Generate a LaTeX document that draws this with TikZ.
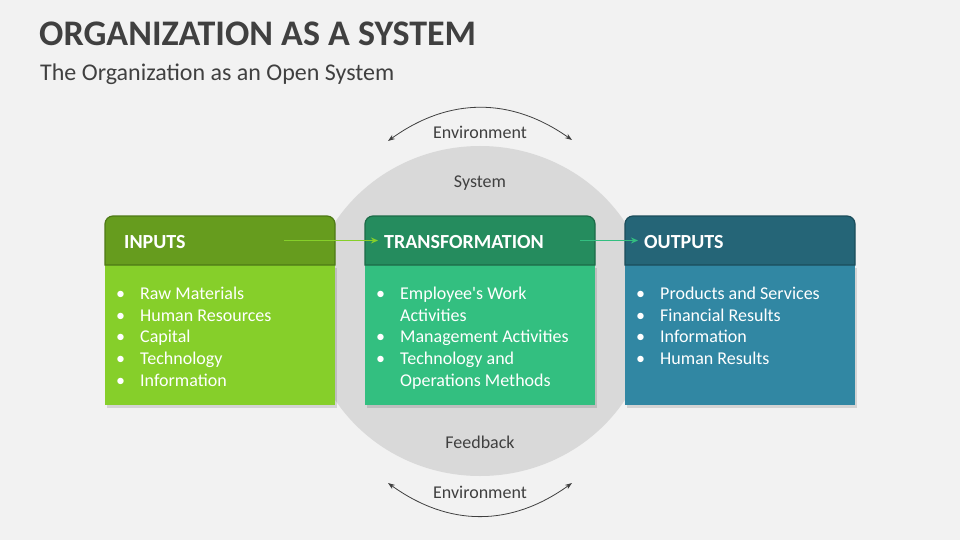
\documentclass[tikz,border=0pt]{standalone}
\usepackage{fontspec}
\setmainfont{Carlito}
\usetikzlibrary{arrows.meta}
\definecolor{bg}{HTML}{F2F2F2}
\definecolor{circ}{HTML}{D9D9D9}
\definecolor{txt}{HTML}{404040}
\definecolor{inH}{HTML}{669C1E}
\definecolor{inHb}{HTML}{4E7A16}
\definecolor{inB}{HTML}{86CF2A}
\definecolor{trH}{HTML}{258C5E}
\definecolor{trHb}{HTML}{1C6B48}
\definecolor{trB}{HTML}{33BF80}
\definecolor{ouH}{HTML}{256577}
\definecolor{ouHb}{HTML}{1B4D5B}
\definecolor{ouB}{HTML}{3187A3}
\newcommand{\bul}{\makebox[24pt][l]{\textbullet}}
\newcommand{\ind}{\hspace*{24pt}}
\tikzset{
  hdtext/.style={anchor=base west, inner sep=0pt, text=white, font=\fontsize{20}{22}\selectfont\bfseries},
  listtext/.style={anchor=north west, inner sep=0pt, text=white, align=left, font=\fontsize{18}{21.6}\selectfont},
  graytext/.style={inner sep=0pt, text=txt, font=\fontsize{18}{20}\selectfont},
  envarrow/.style={draw=txt, line width=0.8pt, {Stealth[length=7pt,width=5pt]}-{Stealth[length=7pt,width=5pt]}},
  shadowbox/.style={fill=black, opacity=0.12},
}
\begin{document}
\begin{tikzpicture}[x=1pt,y=-1pt]
\fill[bg] (0,0) rectangle (960,540);
\useasboundingbox (0,0) rectangle (960,540);
% system circle
\fill[circ] (480,311) ellipse [x radius=172, y radius=165];
% title
\node[anchor=base west, inner sep=0pt, text=txt, font=\fontsize{36}{40}\selectfont\bfseries] (title) at (39,46) {ORGANIZATION AS A SYSTEM};
\node[anchor=base west, inner sep=0pt, text=txt, font=\fontsize{24}{28}\selectfont] (subtitle) at (40,81) {The Organization as an Open System};
% environment arcs
\coordinate (e1a) at (388,141);
\coordinate (e1b) at (572,140);
\draw[envarrow] (e1a) .. controls (449,97) and (511,97) .. (e1b);
\node[graytext] (env1) at (480,132) {Environment};
\coordinate (e2a) at (388,483);
\coordinate (e2b) at (572,483);
\draw[envarrow] (e2a) .. controls (449,527) and (511,527) .. (e2b);
\node[graytext] (env2) at (480,492) {Environment};
\node[graytext] (system) at (480,183) {System};
\node[graytext] (feedback) at (480,442) {Feedback};
% shadows
\foreach \x in {105,365,625}{
  \fill[shadowbox] (\x+2,268) rectangle (\x+232,408);
}
% INPUTS box
\fill[inB] (105,265) rectangle (335,405);
\draw[fill=inH, draw=inHb, line width=1.2pt] (105,265) [rounded corners=8pt]-- (105,216) -- (335,216) [sharp corners]-- (335,265) -- cycle;
\node[inner sep=0pt, minimum width=230pt, minimum height=49pt] (inhead) at (220,240.5) {};
\node[hdtext] (inT) at (124,248) {INPUTS};
\node[listtext] (inL) at (116,287) {\bul Raw Materials\\ \bul Human Resources\\ \bul Capital\\ \bul Technology\\ \bul Information};
% TRANSFORMATION box
\fill[trB] (365,265) rectangle (595,405);
\draw[fill=trH, draw=trHb, line width=1.2pt] (365,265) [rounded corners=8pt]-- (365,216) -- (595,216) [sharp corners]-- (595,265) -- cycle;
\node[inner sep=0pt, minimum width=230pt, minimum height=49pt] (trhead) at (480,240.5) {};
\node[hdtext] (trT) at (384,248) {TRANSFORMATION};
\node[listtext] (trL) at (376,287) {\bul Employee\textquotesingle s Work\\ \ind Activities\\ \bul Management Activities\\ \bul Technology and\\ \ind Operations Methods};
% OUTPUTS box
\fill[ouB] (625,265) rectangle (855,405);
\draw[fill=ouH, draw=ouHb, line width=1.2pt] (625,265) [rounded corners=8pt]-- (625,216) -- (855,216) [sharp corners]-- (855,265) -- cycle;
\node[inner sep=0pt, minimum width=230pt, minimum height=49pt] (ouhead) at (740,240.5) {};
\node[hdtext] (ouT) at (644,248) {OUTPUTS};
\node[listtext] (ouL) at (636,287) {\bul Products and Services\\ \bul Financial Results\\ \bul Information\\ \bul Human Results};
% flow arrows
\draw[draw=inB, line width=1.3pt, -{Stealth[length=7pt,width=6pt]}] ([xshift=-51pt]inhead.east) -- ([xshift=-6pt]trT.west |- inhead.east);
\draw[draw=trB, line width=1.3pt, -{Stealth[length=7pt,width=6pt]}] ([xshift=-15pt]trhead.east) -- ([xshift=-6pt]ouT.west |- trhead.east);
\end{tikzpicture}
\end{document}
